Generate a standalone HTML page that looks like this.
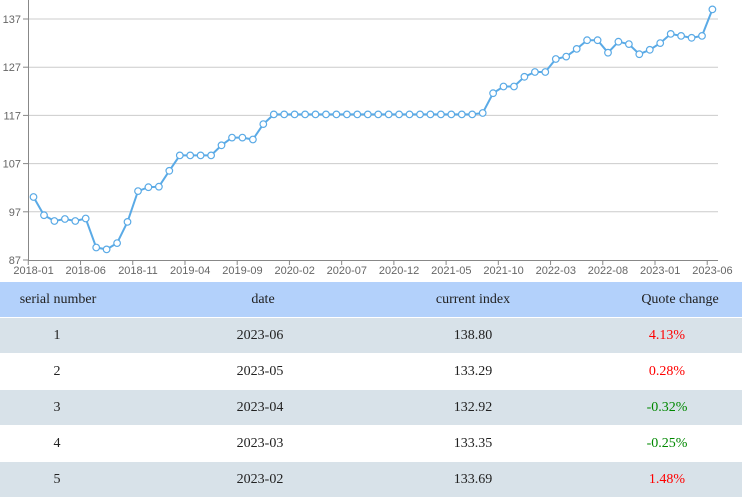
<!DOCTYPE html>
<html><head><meta charset="utf-8"><style>
body{margin:0;width:742px;height:501px;background:#fff;overflow:hidden;position:relative}
svg{position:absolute;left:0;top:0}
.row{position:absolute;left:0;width:742px;height:35px;font-family:"Liberation Serif",serif;font-size:14px;color:#222}
.row div{position:absolute;top:0;line-height:35px;transform:translateX(-50%);white-space:nowrap}
</style></head><body>
<svg id="c" width="742" height="282" xmlns="http://www.w3.org/2000/svg" font-family="Liberation Sans, sans-serif" font-size="11" fill="#666"></svg>
<div class="row" style="top:282px;background:#b3d1fb"><div style="left:58px">serial number</div><div style="left:263px">date</div><div style="left:473px">current index</div><div style="left:680px">Quote change</div></div>
<div class="row" style="top:318px;background:#d8e2e9"><div style="left:57px">1</div><div style="left:260px">2023-06</div><div style="left:473px">138.80</div><div style="left:667px;color:#f00">4.13%</div></div>
<div class="row" style="top:354px;background:#fff"><div style="left:57px">2</div><div style="left:260px">2023-05</div><div style="left:473px">133.29</div><div style="left:667px;color:#f00">0.28%</div></div>
<div class="row" style="top:390px;background:#d8e2e9"><div style="left:57px">3</div><div style="left:260px">2023-04</div><div style="left:473px">132.92</div><div style="left:667px;color:#080">-0.32%</div></div>
<div class="row" style="top:426px;background:#fff"><div style="left:57px">4</div><div style="left:260px">2023-03</div><div style="left:473px">133.35</div><div style="left:667px;color:#080">-0.25%</div></div>
<div class="row" style="top:462px;background:#d8e2e9"><div style="left:57px">5</div><div style="left:260px">2023-02</div><div style="left:473px">133.69</div><div style="left:667px;color:#f00">1.48%</div></div>
<script>
var v=[100.07,96.3,95.1,95.5,95.1,95.6,89.6,89.2,90.5,94.9,101.3,102.1,102.2,105.5,108.7,108.7,108.7,108.7,110.8,112.4,112.4,112.0,115.2,117.2];
while(v.length<43)v.push(117.2);
v=v.concat([117.5,121.6,123.0,123.0,125.0,126.0,126.0,128.7,129.2,130.8,132.6,132.6,130.0,132.3,131.8,129.7,130.6,132.0,133.9,133.5,133.1,133.5,139.0]);
var x0=28.3,bw=10.445,Y=function(a){return 260-(a-87)*4.82};
var s='';
[87,97,107,117,127,137].forEach(function(t){var y=Y(t).toFixed(1);
 if(t>87)s+='<line x1="28" x2="718" y1="'+y+'" y2="'+y+'" stroke="#ccc"/>';
 s+='<line x1="23" x2="28" y1="'+y+'" y2="'+y+'" stroke="#888"/><text x="21" y="'+(+y+4)+'" text-anchor="end">'+t+'</text>';});
s+='<line x1="28.5" x2="28.5" y1="0" y2="260" stroke="#888"/><line x1="28" x2="718" y1="260.5" y2="260.5" stroke="#888"/>';
for(var i=0;i<66;i+=5){var x=x0+i*bw;s+='<line x1="'+x+'" x2="'+x+'" y1="260" y2="265" stroke="#888"/>';
 var yr=2018+Math.floor(i/12),m=i%12+1;s+='<text x="'+(x+bw/2)+'" y="274" text-anchor="middle">'+yr+'-'+(m<10?'0':'')+m+'</text>';}
var p=v.map(function(a,i){return (x0+(i+0.5)*bw).toFixed(1)+','+Y(a).toFixed(1)});
s+='<polyline points="'+p.join(' ')+'" fill="none" stroke="#5aaae6" stroke-width="2"/>';
p.forEach(function(q){var c=q.split(',');s+='<circle cx="'+c[0]+'" cy="'+c[1]+'" r="3.3" fill="#fff" stroke="#5aaae6" stroke-width="1.2"/>';});
document.getElementById('c').innerHTML=s;
</script>
</body></html>
